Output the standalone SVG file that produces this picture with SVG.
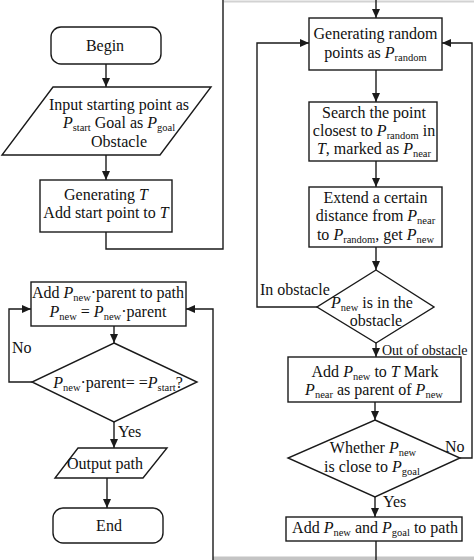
<svg xmlns="http://www.w3.org/2000/svg" width="474" height="560" viewBox="0 0 474 560">
<defs>
<style>
.n{fill:#fff;stroke:#1a1a1a;stroke-width:1.4}
.c{fill:none;stroke:#1a1a1a;stroke-width:1.4}
.t{font-family:"Liberation Serif","Times New Roman",serif;font-size:16px;fill:#111;text-anchor:middle}
.l{font-family:"Liberation Serif","Times New Roman",serif;font-size:16px;fill:#111}
.i{font-style:italic}
.s{font-size:10.5px}
</style>
<marker id="a" markerWidth="9" markerHeight="8" refX="9" refY="4" orient="auto" markerUnits="userSpaceOnUse">
<path d="M0,0 L9,4 L0,8 Z" fill="#1a1a1a"/>
</marker>
</defs>
<rect width="474" height="560" fill="#fff"/>
<g id="frame">
<line x1="224" y1="1.5" x2="474" y2="1.5" stroke="#d2d2d2" stroke-width="2"/>
<rect x="213" y="556.5" width="261" height="3.5" fill="#c4c4c4"/>
</g>
<g id="connectors">
<path class="c" d="M106,64 V87" marker-end="url(#a)"/>
<path class="c" d="M106,155 V180" marker-end="url(#a)"/>
<path class="c" d="M106,232 V249 H223 V-3 H376 V18" marker-end="url(#a)"/>
<path class="c" d="M376,70 V102" marker-end="url(#a)"/>
<path class="c" d="M376,161 V187" marker-end="url(#a)"/>
<path class="c" d="M376,247 V270" marker-end="url(#a)"/>
<path class="c" d="M317,307 H257 V43 H309" marker-end="url(#a)"/>
<path class="c" d="M376,343 V357" marker-end="url(#a)"/>
<path class="c" d="M375,402 V420" marker-end="url(#a)"/>
<path class="c" d="M460,458 H472 V43 H442" marker-end="url(#a)"/>
<path class="c" d="M375,497 V517" marker-end="url(#a)"/>
<path class="c" d="M376,541 V563 H213 V309 H186" marker-end="url(#a)"/>
<path class="c" d="M114,326 V343" marker-end="url(#a)"/>
<path class="c" d="M32,382 H9 V309 H31" marker-end="url(#a)"/>
<path class="c" d="M114,422 V448" marker-end="url(#a)"/>
<path class="c" d="M107,478 V508" marker-end="url(#a)"/>
<text class="l" x="260" y="295">In obstacle</text>
<text class="l" x="382" y="355" style="font-size:14px">Out of obstacle</text>
<text class="l" x="445" y="452">No</text>
<text class="l" x="383" y="507">Yes</text>
<text class="l" x="12" y="353">No</text>
<text class="l" x="118" y="437">Yes</text>
</g>
<g id="begin">
<rect class="n" x="51" y="27" width="110" height="37" rx="10"/>
<text class="t" x="105" y="51">Begin</text>
</g>
<g id="input">
<polygon class="n" points="53,87 211,87 160,155 2,155"/>
<text class="t" x="119" y="110">Input starting point as</text>
<text class="t" x="119" y="128"><tspan class="i">P</tspan><tspan class="s" dy="3">start</tspan><tspan dy="-3"> Goal as </tspan><tspan class="i">P</tspan><tspan class="s" dy="3">goal</tspan></text>
<text class="t" x="119" y="147">Obstacle</text>
</g>
<g id="gentree">
<rect class="n" x="40" y="180" width="132" height="52"/>
<text class="t" x="106" y="200">Generating <tspan class="i">T</tspan></text>
<text class="t" x="106" y="218">Add start point to <tspan class="i">T</tspan></text>
</g>
<g id="random">
<rect class="n" x="309" y="18" width="133" height="52"/>
<text class="t" x="375.5" y="39">Generating random</text>
<text class="t" x="375.5" y="58">points as <tspan class="i">P</tspan><tspan class="s" dy="3">random</tspan></text>
</g>
<g id="search">
<rect class="n" x="309" y="102" width="128" height="59"/>
<text class="t" x="374" y="117.5">Search the point</text>
<text class="t" x="374" y="135.5">closest to <tspan class="i">P</tspan><tspan class="s" dy="3">random</tspan><tspan dy="-3"> in</tspan></text>
<text class="t" x="374" y="154">
<tspan class="i">T</tspan>, marked as <tspan class="i">P</tspan><tspan class="s" dy="3">near</tspan></text>
</g>
<g id="extend">
<rect class="n" x="309" y="187" width="133" height="60"/>
<text class="t" x="375.5" y="203">Extend a certain</text>
<text class="t" x="375.5" y="221">distance from <tspan class="i">P</tspan><tspan class="s" dy="3">near</tspan></text>
<text class="t" x="375.5" y="239.5">to <tspan class="i">P</tspan><tspan class="s" dy="3">random</tspan><tspan dy="-3">, get </tspan><tspan class="i">P</tspan><tspan class="s" dy="3">new</tspan></text>
</g>
<g id="obstacle">
<polygon class="n" points="376,270 434,307 376,343 317,307"/>
<text class="t" x="372" y="307.5"><tspan class="i">P</tspan><tspan class="s" dy="3">new</tspan><tspan dy="-3"> is in the</tspan></text>
<text class="t" x="376" y="325.5">obstacle</text>
</g>
<g id="addnew">
<rect class="n" x="288" y="357" width="173" height="45"/>
<text class="t" x="375" y="376.5">Add <tspan class="i">P</tspan><tspan class="s" dy="3">new</tspan><tspan dy="-3"> to </tspan><tspan class="i">T</tspan> Mark</text>
<text class="t" x="374" y="395">
<tspan class="i">P</tspan><tspan class="s" dy="3">near</tspan><tspan dy="-3"> as parent of </tspan><tspan class="i">P</tspan><tspan class="s" dy="3">new</tspan></text>
</g>
<g id="closegoal">
<polygon class="n" points="375,420 460,458 375,497 288,458"/>
<text class="t" x="373" y="453">Whether <tspan class="i">P</tspan><tspan class="s" dy="3">new</tspan></text>
<text class="t" x="372" y="472">is close to <tspan class="i">P</tspan><tspan class="s" dy="3">goal</tspan></text>
</g>
<g id="addgoal">
<rect class="n" x="286" y="517" width="176" height="24"/>
<text class="t" x="375" y="533">Add <tspan class="i">P</tspan><tspan class="s" dy="3">new</tspan><tspan dy="-3"> and </tspan><tspan class="i">P</tspan><tspan class="s" dy="3">goal</tspan><tspan dy="-3"> to path</tspan></text>
</g>
<g id="backtrack">
<rect class="n" x="31" y="282" width="155" height="44"/>
<text class="t" x="108" y="298">Add <tspan class="i">P</tspan><tspan class="s" dy="3">new</tspan><tspan dy="-3">·parent to path</tspan></text>
<text class="t" x="108" y="317"><tspan class="i">P</tspan><tspan class="s" dy="3">new</tspan><tspan dy="-3"> = </tspan><tspan class="i">P</tspan><tspan class="s" dy="3">new</tspan><tspan dy="-3">·parent</tspan></text>
</g>
<g id="isstart">
<polygon class="n" points="114,343 197,382 114,422 32,382"/>
<text class="t" x="118" y="388"><tspan class="i">P</tspan><tspan class="s" dy="3">new</tspan><tspan dy="-3">·parent= =</tspan><tspan class="i">P</tspan><tspan class="s" dy="3">start</tspan><tspan dy="-3">?</tspan></text>
</g>
<g id="output">
<polygon class="n" points="78,448 167,448 143,478 55,478"/>
<text class="t" x="105" y="469">Output path</text>
</g>
<g id="end">
<rect class="n" x="53" y="508" width="110" height="35" rx="10"/>
<text class="t" x="109" y="531">End</text>
</g>
</svg>
